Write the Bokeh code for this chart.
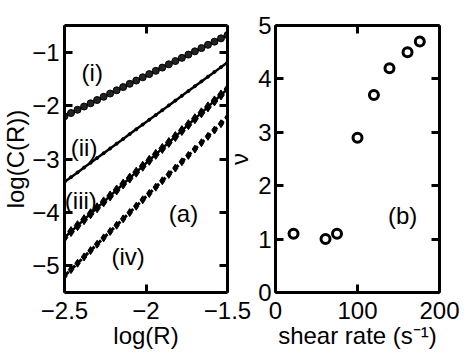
from bokeh.plotting import figure
from bokeh.models import LinearAxis, FixedTicker, CustomJSTickFormatter, Label, Range1d, Title
from bokeh.layouts import row
from bokeh.embed import file_html
from bokeh.resources import INLINE

# ---- panel (a) data ----
log_r = [-2.50, -2.46, -2.42, -2.38, -2.34, -2.30, -2.26, -2.22, -2.18, -2.14,
         -2.10, -2.06, -2.02, -1.98, -1.94, -1.90, -1.86, -1.82, -1.78, -1.74,
         -1.70, -1.66, -1.62, -1.58, -1.54, -1.50]
curve_i = [-2.200, -2.139, -2.078, -2.018, -1.957, -1.896, -1.835, -1.774, -1.714, -1.653,
           -1.592, -1.531, -1.470, -1.410, -1.349, -1.288, -1.227, -1.166, -1.106, -1.045,
           -0.984, -0.923, -0.862, -0.802, -0.741, -0.680]
curve_ii = [-3.430, -3.340, -3.251, -3.161, -3.072, -2.982, -2.892, -2.803, -2.713, -2.624,
            -2.534, -2.444, -2.355, -2.265, -2.176, -2.086, -1.996, -1.907, -1.817, -1.728,
            -1.638, -1.548, -1.459, -1.369, -1.280, -1.190]
curve_iii = [-4.470, -4.359, -4.248, -4.136, -4.025, -3.914, -3.803, -3.692, -3.580, -3.469,
             -3.358, -3.247, -3.136, -3.024, -2.913, -2.802, -2.691, -2.580, -2.468, -2.357,
             -2.246, -2.135, -2.024, -1.912, -1.801, -1.690]
curve_iv = [-5.190, -5.071, -4.952, -4.834, -4.715, -4.596, -4.477, -4.358, -4.240, -4.121,
            -4.002, -3.883, -3.764, -3.646, -3.527, -3.408, -3.289, -3.170, -3.052, -2.933,
            -2.814, -2.695, -2.576, -2.458, -2.339, -2.220]
a_xticks = [-2.5, -2.0, -1.5]
a_yticks = [-5, -4, -3, -2, -1]

# ---- panel (b) data ----
shear_rate = [22, 61, 75, 100, 120, 139, 161, 176]
nu = [1.1, 1.0, 1.1, 2.9, 3.7, 4.2, 4.5, 4.7]
b_xticks = [0, 100, 200]
b_yticks = [0, 1, 2, 3, 4, 5]

FONT = "Liberation Sans"
FS = "24px"

minus_fmt = CustomJSTickFormatter(code="return (tick < 0 ? '\\u2212' : '') + Math.abs(tick);")
blank_fmt = CustomJSTickFormatter(code="return '';")


def style_axis(ax, ticks, labels=True):
    ax.ticker = FixedTicker(ticks=ticks)
    ax.axis_line_width = 3
    ax.axis_line_color = "black"
    ax.major_tick_line_width = 3
    ax.major_tick_line_color = "black"
    ax.major_tick_in = 8
    ax.major_tick_out = 0
    ax.minor_tick_line_color = None
    ax.major_label_text_font = FONT
    ax.major_label_text_color = "black"
    ax.axis_label_text_font = FONT
    ax.axis_label_text_font_size = FS
    ax.axis_label_text_font_style = "normal"
    ax.axis_label_text_color = "black"
    if labels:
        ax.formatter = minus_fmt
        ax.major_label_text_font_size = FS
        ax.major_label_standoff = 4
    else:
        ax.formatter = blank_fmt
        ax.major_label_text_font_size = "0px"
        ax.major_label_standoff = 0


def make_fig(width, xr, yr, bl, br, xticks, yticks):
    p = figure(width=width, height=355, x_range=Range1d(*xr), y_range=Range1d(*yr),
               output_backend="svg", toolbar_location=None, x_axis_location=None,
               y_axis_location=None,
               min_border_left=bl, min_border_right=br, min_border_top=25, min_border_bottom=63)
    p.grid.visible = False
    p.outline_line_color = None
    p.background_fill_color = "white"
    p.border_fill_color = "white"
    axes = {}
    for side, ticks, lab in [("below", xticks, True), ("left", yticks, True),
                             ("above", xticks, False), ("right", yticks, False)]:
        ax = LinearAxis()
        style_axis(ax, ticks, labels=lab)
        p.add_layout(ax, side)
        axes[side] = ax
    return p, axes


# ---- panel (a) ----
pa, ax_a = make_fig(254, (-2.5, -1.5), (-5.5, -0.5), 63, 27, a_xticks, a_yticks)
ax_a["below"].axis_label = "log(R)"
ax_a["below"].axis_label_standoff = 0
ax_a["below"].major_label_standoff = 9
ax_a["left"].major_label_standoff = 5

pa.line(log_r, curve_i, line_color="black", line_width=2)
pa.scatter(log_r, curve_i, marker="circle", size=7, fill_color="#222222", line_color="black", line_width=1)

pa.line(log_r, curve_ii, line_color="black", line_width=2.5)
pa.scatter(log_r, curve_ii, marker="circle", size=3, fill_color="black", line_color="black")

pa.line(log_r, curve_iii, line_color="black", line_width=2.5)
pa.scatter(log_r, curve_iii, marker="diamond", size=10, fill_color="black", line_color="black")

pa.line(log_r, curve_iv, line_color="black", line_width=3, line_dash="6 3")
pa.scatter(log_r, curve_iv, marker="diamond", size=8, fill_color="black", line_color="black")

for txt, lx, ly in [("(i)", -2.33, -1.38), ("(ii)", -2.38, -2.78), ("(iii)", -2.40, -3.78),
                    ("(iv)", -2.11, -4.82), ("(a)", -1.77, -4.02)]:
    pa.add_layout(Label(x=lx, y=ly, text=txt, text_font=FONT, text_font_size=FS,
                        text_align="center", text_baseline="middle", text_color="black"))

pa.add_layout(Title(text="log(C(R))", align="center", vertical_align="middle",
                    text_font=FONT, text_font_size=FS, text_font_style="normal",
                    text_color="black", standoff=0), "left")

# ---- panel (b) ----
# pulled left so its (transparent) border overlaps panel (a)'s right margin
pb, ax_b = make_fig(251, (0, 200), (0, 5), 46, 35, b_xticks, b_yticks)
pb.border_fill_color = None
pb.margin = (0, 0, 0, -31)
ax_b["below"].axis_label = "shear rate (s\u207b\u00b9)"
ax_b["below"].axis_label_standoff = 0
ax_b["below"].major_label_standoff = 9
ax_b["left"].axis_label = "\u03bd"
ax_b["left"].axis_label_standoff = 2
pb.scatter(shear_rate, nu, marker="circle", size=9, fill_color="white",
           line_color="black", line_width=3)
pb.add_layout(Label(x=155, y=1.45, text="(b)", text_font=FONT, text_font_size=FS,
                    text_align="center", text_baseline="middle", text_color="black"))

layout = row(pa, pb)
open("out.html", "w").write(file_html(layout, INLINE))
